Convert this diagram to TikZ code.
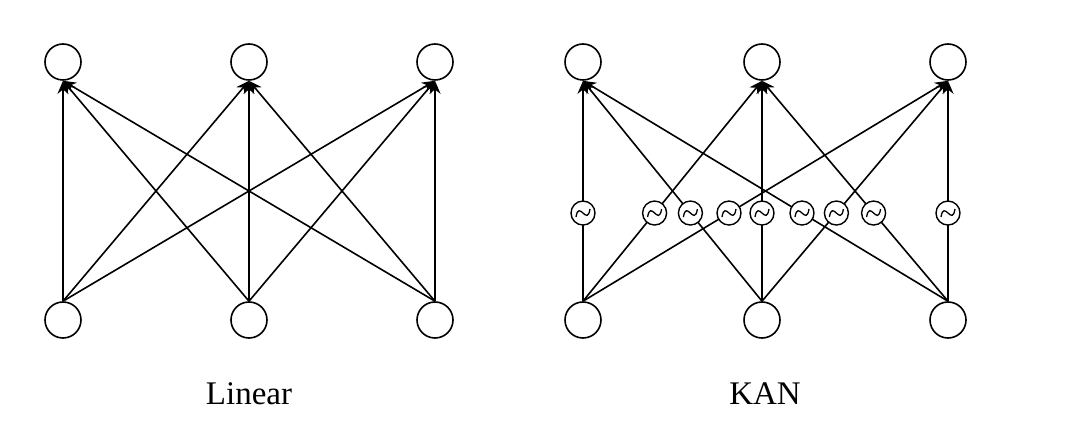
\documentclass[tikz,border=0pt]{standalone}
\usepackage{fontspec}
\setmainfont{Liberation Serif}
\usetikzlibrary{arrows.meta,calc}
\begin{document}
\begin{tikzpicture}[x=1pt,y=-1pt,
  neuron/.style={circle,draw,line width=1.6pt,minimum size=36pt,inner sep=0pt},
  act/.style={circle,draw,fill=white,line width=1.4pt,minimum size=24pt,inner sep=0pt,
    path picture={\draw[line width=1.3pt] ($(path picture bounding box.center)+(-7,4)$)
      .. controls +(3,-18) and +(-3,18) .. ($(path picture bounding box.center)+(7,-4)$);}},
  conn/.style={line width=1.6pt},
  arr/.style={line width=1.6pt,-{Stealth[length=13pt,width=11pt]}}]
\useasboundingbox (0,0) rectangle (1080,435);
% Linear
\foreach \i/\x in {0/63,1/249,2/435}{
  \node[neuron] (lt\i) at (\x,62) {};
  \node[neuron] (lb\i) at (\x,320) {};
}
\foreach \i in {0,1,2}{\foreach \j in {0,1,2}{
  \draw[arr] (lb\i.north) -- (lt\j.south);
}}
\node (llab) at (249,394) {\fontsize{33}{38}\selectfont Linear};
% KAN
\foreach \i/\x in {0/583,1/762,2/948}{
  \node[neuron] (kt\i) at (\x,62) {};
  \node[neuron] (kb\i) at (\x,320) {};
}
\foreach \i in {0,1,2}{\foreach \j in {0,1,2}{
  \coordinate (c\i\j) at ($(kb\i.north)!0.4!(kt\j.south)$);
  \draw[conn] (kb\i.north) -- (c\i\j);
  \draw[arr] (c\i\j) -- (kt\j.south);
}}
\foreach \i in {0,1,2}{\foreach \j in {0,1,2}{
  \node[act] (a\i\j) at (c\i\j) {};
}}
\node (klab) at (765,394) {\fontsize{33}{38}\selectfont KAN};
\end{tikzpicture}
\end{document}
